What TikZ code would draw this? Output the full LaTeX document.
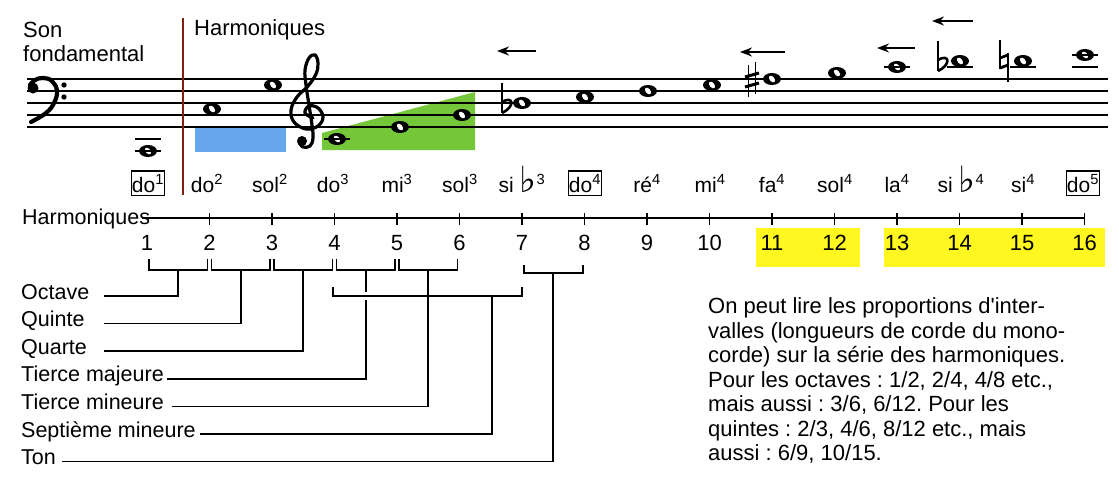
\documentclass[tikz,border=0pt]{standalone}
\usepackage{fontspec}
\setmainfont{Liberation Sans}[Ligatures=TeXOff]
\newfontfamily\symfont{DejaVu Sans}
\usetikzlibrary{arrows.meta}
\frenchspacing

\definecolor{bleu}{rgb}{0.40,0.65,0.92}
\definecolor{vert}{rgb}{0.45,0.78,0.22}
\definecolor{jaune}{rgb}{1,0.97,0.12}
\definecolor{brun}{rgb}{0.50,0.13,0.08}

% whole note, ledger line and accidentals
\newcommand\ronde[2]{%
  \fill (#1,#2) ellipse (9pt and 6pt);
  \fill[white,rotate around={40:(#1,#2)}] (#1,#2) ellipse (2.4pt and 3.9pt);}
\newcommand\ledger[2]{\draw[supp] (#1-13,#2) -- (#1+13,#2);}
\newcommand\bemol[2]{%
  \draw[line width=1.4pt] (#1,#2-20) -- (#1,#2+10);
  \draw[line width=2.6pt] (#1,#2-1) .. controls (#1+12,#2-8) and (#1+13,#2+4) .. (#1,#2+10);}
\newcommand\diese[2]{%
  \draw[line width=1.3pt] (#1-3.5,#2-14) -- (#1-3.5,#2+18) (#1+3.5,#2-17) -- (#1+3.5,#2+15);
  \draw[line width=3pt] (#1-7,#2-2) -- (#1+7,#2-6) (#1-7,#2+8) -- (#1+7,#2+4);}
\newcommand\becarre[2]{%
  \draw[line width=1.4pt] (#1-4,#2-21) -- (#1-4,#2+8) (#1+4,#2-8) -- (#1+4,#2+21);
  \draw[line width=2.8pt] (#1-4,#2-3) -- (#1+4,#2-6) (#1-4,#2+7) -- (#1+4,#2+4);}

\begin{document}
\begin{tikzpicture}[
x=1pt,y=-1pt,
portee/.style={line width=1.5pt},
supp/.style={line width=1.6pt},
trait/.style={line width=1.6pt},
fleche/.style={
	-{Stealth[length=12pt,width=9pt]},
	line width=1.8pt
},
cle/.style={line width=3.2pt,line cap=round},
titre/.style={
	font=\fontsize{22}{24.5}\selectfont,
	anchor=north west,
	align=left,
	inner sep=0pt
},
nom/.style={
	font=\fontsize{21}{24}\selectfont,
	anchor=base,
	inner sep=0pt
},
boite/.style={draw,line width=1.3pt,inner xsep=0.5pt,inner ysep=3.5pt},
etiquette/.style={
	font=\fontsize{21.5}{24}\selectfont,
	anchor=base west,
	inner sep=0pt
}
]
\useasboundingbox (0,0) rectangle (1119,483);

% coloured zones
\fill[bleu] (195,128) rectangle (286,152);
\fill[vert] (322,133) -- (475,92) -- (475,150) -- (322,150) -- cycle;
\fill[jaune] (756,228) rectangle (860,267);
\fill[jaune] (884,228) rectangle (1105,267);

% staff
\foreach \y in {79,91,103,115,127}
\draw[portee] (27,\y) -- (1108,\y);
\draw[line width=1.6pt,brun] (183,18) -- (183,195);

% bass clef
\draw[cle,line width=4.2pt] plot[smooth,tension=0.7] coordinates {(30,85) (35,80) (43,78) (52,81) (57,91) (54,103) (46,113) (31,122)};
\fill (33,88) circle (5.5pt);
\fill (64,85) circle (2.7pt);
\fill (64,97) circle (2.7pt);

% treble clef
\draw[cle] plot[smooth,tension=0.65] coordinates {(313,118) (305,113) (309,106) (318,108) (323,117) (318,126) (306,129) (294,122) (291,110) (297,97) (308,86) (316,74) (318,63) (315,55) (309,58) (305,70) (306,85) (309,105) (312,125) (313,138) (310,146) (303,147) (299,142)};
\fill (302,141) circle (5pt);

% notes
\foreach \x/\y in {148/151,212/109,273/85,337/139,400/127,462/115,522/103,585/97,
	648/91,712/85,772/79,837/73,897/67,960/61,1023/61,1085/55}
{\ronde{\x}{\y}}
\ledger{148}{139}
\ledger{148}{151}
\ledger{337}{139}
\ledger{897}{67}
\ledger{960}{67}
\ledger{1023}{67}
\ledger{1085}{67}
\ledger{1085}{55}
\bemol{502}{103}
\diese{752}{79}
\bemol{938}{61}
\becarre{1004}{61}

\draw[fleche] (536,51) -- (497,51);
\draw[fleche] (785,52) -- (740,52);
\draw[fleche] (915,48) -- (877,48);
\draw[fleche] (973,21) -- (932,21);

% titles
\node[titre] (fond) at (23,21.5) {Son\\fondamental};
\node[titre,anchor=base west] (harmtop) at (194,35) {Harmoniques};

% note names
\node[nom,boite] (do1) at (148,192) {do\textsuperscript{1}};
\node[nom,boite] (do4) at (585,192) {do\textsuperscript{4}};
\node[nom,boite] (do5) at (1083,192) {do\textsuperscript{5}};
\foreach \x/\t in {207/do\textsuperscript{2},270/sol\textsuperscript{2},333/do\textsuperscript{3},
	397/mi\textsuperscript{3},460/sol\textsuperscript{3},647/ré\textsuperscript{4},
	710/mi\textsuperscript{4},772/fa\textsuperscript{4},835/sol\textsuperscript{4},
	897/la\textsuperscript{4},1023/si\textsuperscript{4}}
\node[nom] at (\x,192) {\t};
\node[nom] (sib3) at (522,192) {si {\symfont\fontsize{36}{36}\selectfont ♭}\textsuperscript{3}};
\node[nom] (sib4) at (961,192) {si {\symfont\fontsize{36}{36}\selectfont ♭}\textsuperscript{4}};

% harmonic axis
\node[etiquette] (harm) at (22,224) {Harmoniques};
\foreach \n in {1,...,16} {
	\coordinate (t\n) at ({147+(\n-1)*62.5},218);
	\node[nom,font=\fontsize{22}{24}\selectfont] (n\n) at ({147+(\n-1)*62.5},250) {\n};
}
\draw[trait] ([xshift=-8pt]harm.east |- t16) -- (t16);
\foreach \n in {2,...,16}
\draw[trait] (t\n) ++(0,-5) -- ++(0,12);

% brackets
\foreach \a in {1,...,5} {
	\coordinate (m\a) at ({147+(\a-0.5)*62.5},270);
	\draw[trait] ({147+(\a-1)*62.5+2},259) |- ({147+\a*62.5-2},270) -- ++(0,-11);
}
\draw[trait] (333,287) |- (522,296) -- (522,287);
\coordinate (m47) at (492,296);
\draw[trait] (524,265) |- (583,273) -- (583,265);
\coordinate (m78) at (553,273);

% intervals
\coordinate (g) at (104,0);
\foreach \m/\t/\y in {oct/Octave/299,qui/Quinte/326.6,qua/Quarte/354.2,
	tmaj/Tierce majeure/381.8,tmin/Tierce mineure/409.4,
	sept/Septième mineure/437,ton/Ton/464.6}
\node[etiquette] (\m) at (21,\y) {\t};

\draw[trait] (oct.base east -| g) ++(0,-3) -| (m1);
\draw[trait] (qui.base east -| g) ++(0,-3) -| (m2);
\draw[trait] (qua.base east -| g) ++(0,-3) -| (m3);
\draw[trait] (tmaj.base east) ++(3,-3) -| ([yshift=-30pt]m4);
\draw[trait] (m4) -- ([yshift=-22pt]m4);
\draw[trait] (tmin.base east) ++(8,-3) -| (m5);
\draw[trait] (sept.base east) ++(4,-3) -| (m47);
\draw[trait] (ton.base east) ++(6,-3) -| (m78);

% text
\node[titre] (texte) at (708,297.5) {On peut lire les proportions d'inter-\\
valles (longueurs de corde du mono-\\
corde) sur la série des harmoniques.\\
Pour les octaves : 1/2, 2/4, 4/8 etc.,\\
mais aussi : 3/6, 6/12. Pour les\\
quintes : 2/3, 4/6, 8/12 etc., mais\\
aussi : 6/9, 10/15.};
\end{tikzpicture}
\end{document}
